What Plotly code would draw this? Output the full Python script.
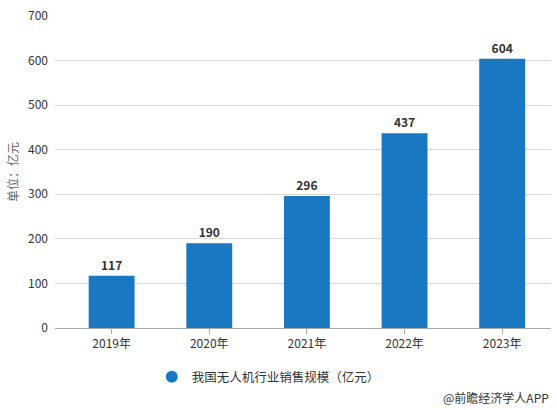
import plotly.graph_objects as go

categories = ["2019年", "2020年", "2021年", "2022年", "2023年"]
values = [117, 190, 296, 437, 604]
series_name = "我国无人机行业销售规模（亿元）"
y_ticks = [0, 100, 200, 300, 400, 500, 600, 700]

FONT = "Noto Sans CJK SC, Microsoft YaHei, sans-serif"
BLUE = "#1a78c3"

fig = go.Figure()
fig.add_trace(go.Bar(
    x=categories, y=values, marker=dict(color=BLUE, line=dict(width=0)),
    width=0.47, text=[str(v) for v in values], textposition="outside",
    textfont=dict(size=12, color="#333333", family=FONT, weight="bold"),
    cliponaxis=False, showlegend=False, name=series_name,
))
fig.add_trace(go.Scatter(
    x=[None], y=[None], mode="markers", name=series_name,
    marker=dict(symbol="circle", size=12, color=BLUE), showlegend=True,
))

fig.update_layout(
    width=557, height=410,
    margin=dict(l=55, r=6, t=16, b=82, autoexpand=False),
    paper_bgcolor="white", plot_bgcolor="white",
    font=dict(family=FONT, size=12, color="#333333"),
    bargap=0.5,
    xaxis=dict(
        range=[-0.58, 4.5], showgrid=False, showline=True, linecolor="#aaaaaa",
        linewidth=1, ticks="outside", ticklen=5, tickcolor="#aaaaaa",
        tickfont=dict(size=12, color="#333333"), fixedrange=True,
    ),
    yaxis=dict(
        range=[0, 700], tickvals=y_ticks, showgrid=True, gridcolor="#d9d9d9",
        gridwidth=1, zeroline=False, showline=False, ticks="",
        tickfont=dict(size=12, color="#333333"), ticklabelstandoff=6,
        title=dict(text="单位：亿元", font=dict(size=12, color="#666666"), standoff=6),
    ),
    legend=dict(
        orientation="h", x=0.43, xanchor="center", y=0.08, yanchor="middle",
        yref="container",
        font=dict(size=12.5, color="#333333"), itemsizing="constant",
        bgcolor="rgba(0,0,0,0)",
    ),
    annotations=[dict(
        text="@前瞻经济学人APP", xref="paper", yref="paper", x=1.0, y=-0.224,
        xanchor="right", yanchor="middle", showarrow=False,
        font=dict(size=12, color="#333333"),
    )],
)

fig.write_html(
    "out.html",
    config={"displayModeBar": False},
    post_script="document.body.style.margin='0';document.body.style.overflow='hidden';",
)
